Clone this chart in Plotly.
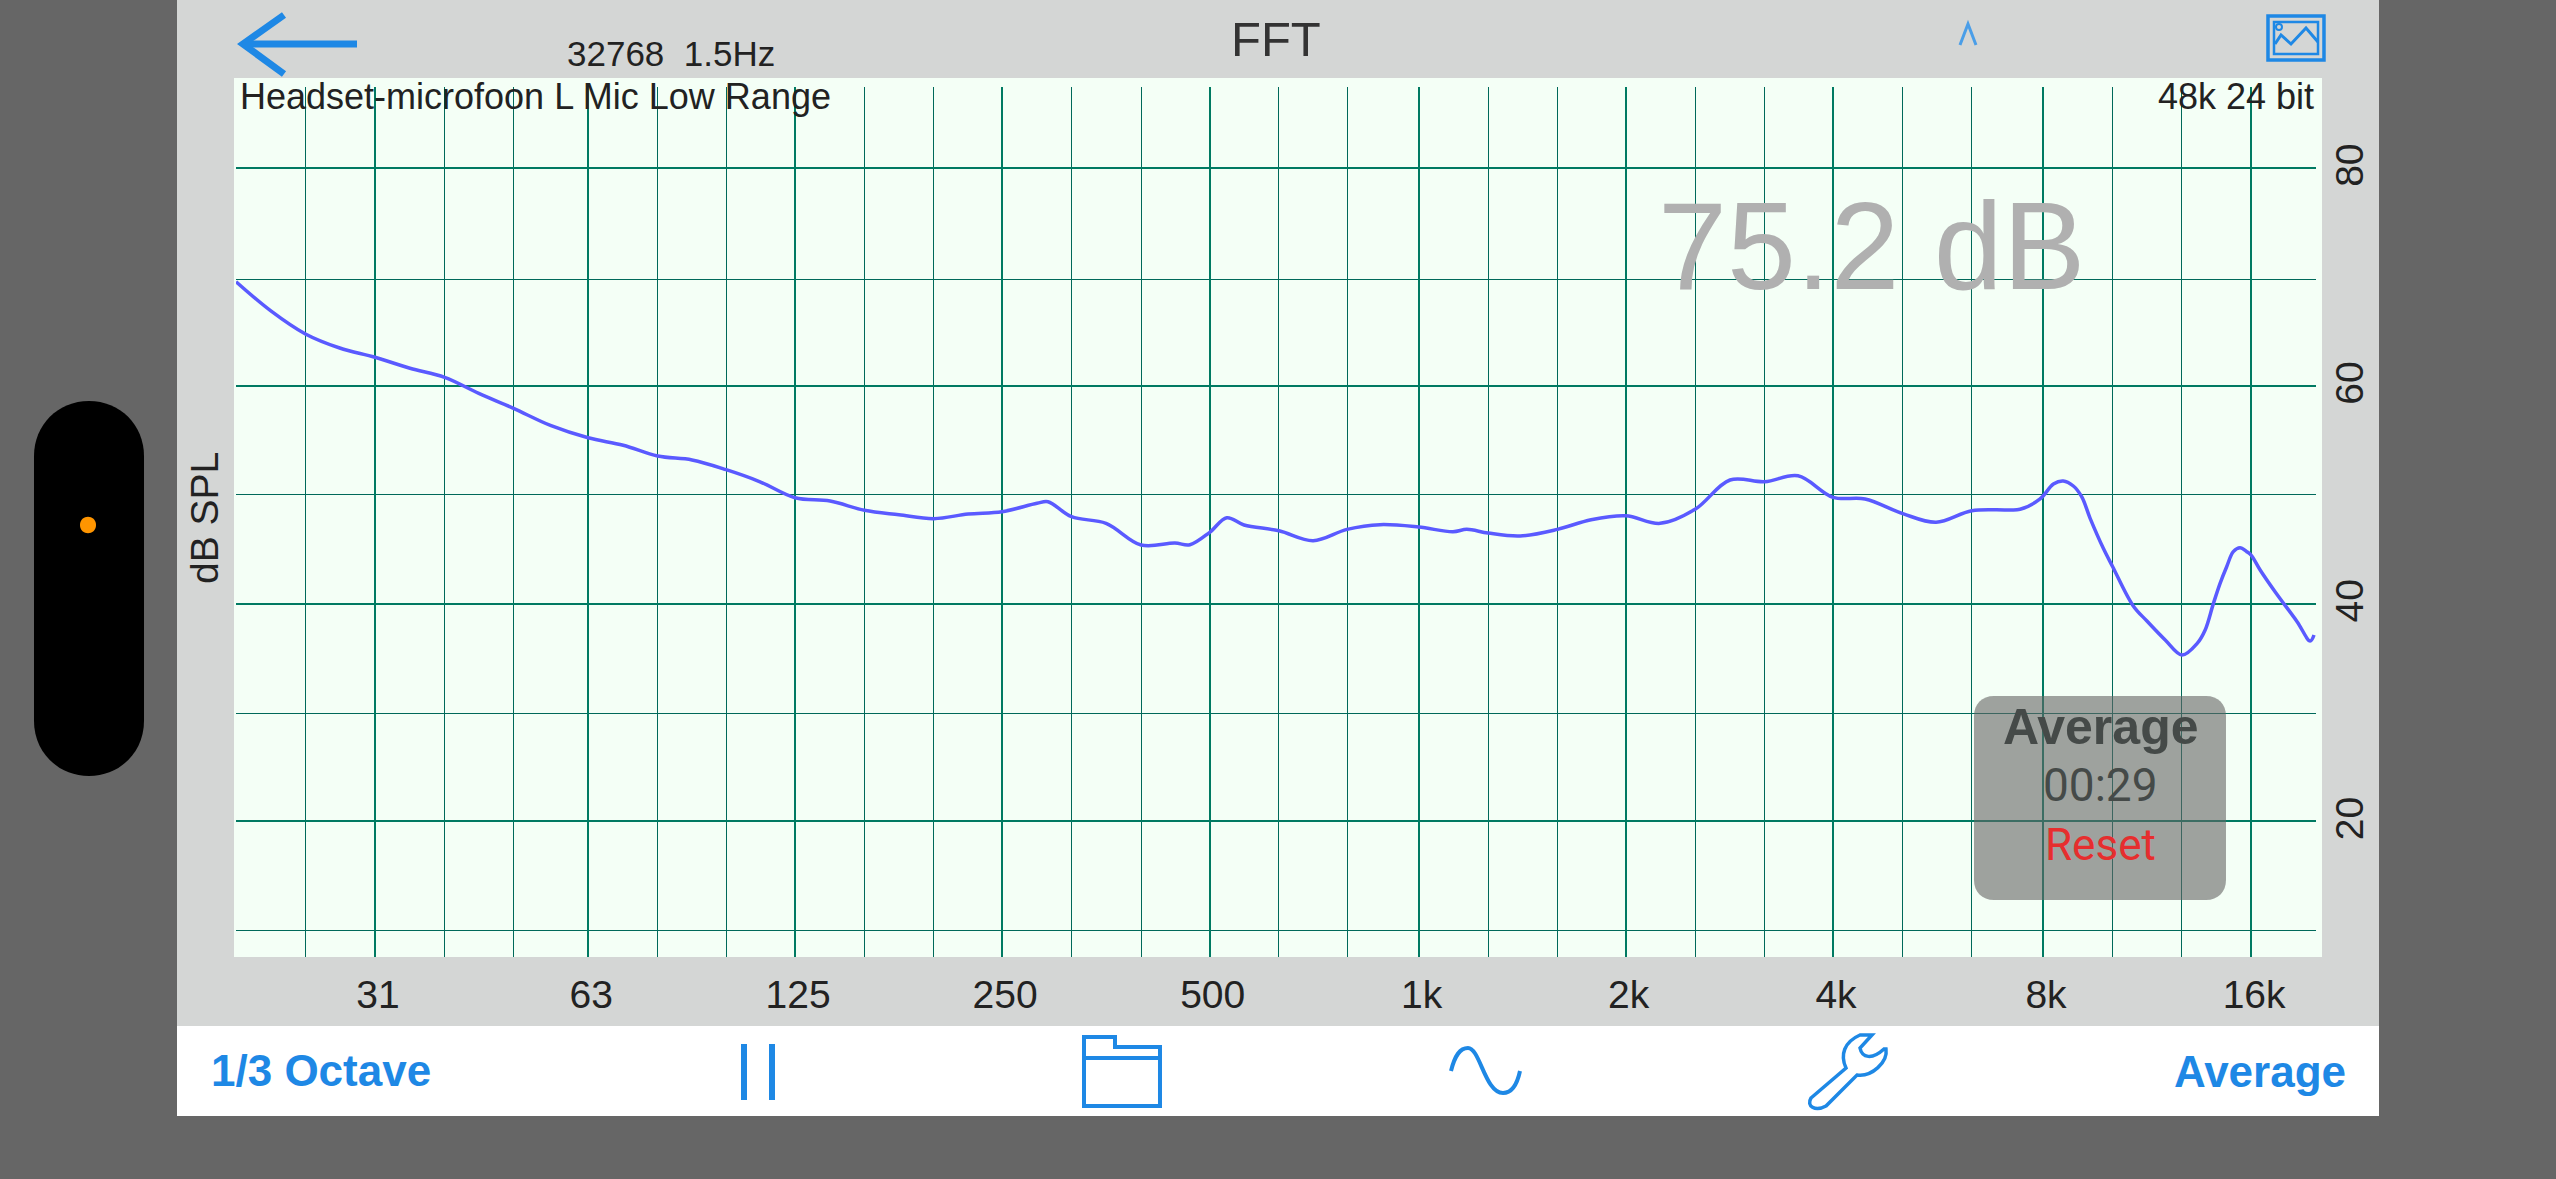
import re
import plotly.graph_objects as go

W = 2556
H = 1179

# curve, frequency in Hz and level in dB
freq = [19.47, 21.84, 24.53, 27.5, 30.93, 34.75, 39.0, 43.7, 49.07, 55.6, 62.9, 70.7, 79.3, 88.9,
        99.6, 111.5, 125.3, 140.8, 157.9, 177.1, 199, 223, 249.7, 280.5, 291, 314.7, 353, 396.7,
        444, 466.8, 498.6, 527.8, 559, 628, 703.7, 787.8, 879.4, 1000, 1121, 1174, 1260, 1402,
        1588, 1776, 1993, 2235, 2511, 2821, 3166, 3538, 3975, 4423, 5016, 5603, 6310, 7097, 7412,
        7923, 8283, 8556, 8851, 9100, 9360, 9780, 10090, 10800, 11310, 12020, 12710,
        13370, 13730, 14110, 14430, 14750, 15080, 15420, 15770, 16000, 16490, 17330, 18650, 19480, 19730]
level = [69.56, 66.9, 64.76, 63.47, 62.62, 61.61, 60.78, 59.31, 57.93, 56.34, 55.23, 54.54, 53.55, 53.19,
         52.3, 51.19, 49.72, 49.42, 48.57, 48.16, 47.8, 48.23, 48.44, 49.21, 49.36, 47.98, 47.37, 45.38,
         45.56, 45.41, 46.55, 47.89, 47.22, 46.69, 45.78, 46.82, 47.25, 47.03, 46.6, 46.82, 46.48, 46.21,
         46.82, 47.7, 48.07, 47.37, 48.66, 51.35, 51.19, 51.74, 49.76, 49.61, 48.26, 47.47, 48.53, 48.6, 48.66,
         49.61, 50.98, 51.26, 50.8, 49.82, 47.83, 45.08, 43.39, 39.81, 38.4, 36.66, 35.28,
         36.35, 37.58, 40.0, 41.86, 43.39, 44.77, 45.13, 44.77, 44.46, 43.09, 41.09, 38.34, 36.57, 37.12]

# octave ticks
x_ticks = [30.93, 62.9, 125.3, 249.7, 498.6, 1000, 1993, 3975, 8000, 16000]
x_labels = ["31", "63", "125", "250", "500", "1k", "2k", "4k", "8k", "16k"]
# third octave lines in between
x_minor = [19.47, 24.53, 39.0, 49.07, 79.3, 99.6, 157.9, 199, 314.7, 396.7, 628, 787.8, 1260, 1588,
           2511, 3166, 5016, 6310, 10090, 12710]
y_ticks = [80, 60, 40, 20]
y_labels = ["80", "60", "40", "20"]
y_minor = [69.8, 50, 29.9, 10]

BLUE = "#1e88e5"
PANEL = "#d4d6d5"
MINT = "#f4fff6"
FONT = "Liberation Sans"


def px(x, y):
    return x / W, 1 - y / H


def path_px(d):
    return re.sub(r"(-?[\d.]+),(-?[\d.]+)",
                  lambda m: f"{float(m[1]) / W:.5f},{1 - float(m[2]) / H:.5f}", d)


def rect(fig, x0, y0, x1, y1, color):
    ax, ay = px(x0, y0)
    bx, by = px(x1, y1)
    fig.add_shape(type="rect", xref="paper", yref="paper", x0=ax, y0=ay, x1=bx, y1=by,
                  fillcolor=color, line_width=0, layer="below")


def icon(fig, d, color=BLUE, width=4, fill=None, layer="above"):
    fig.add_shape(type="path", xref="paper", yref="paper", path=path_px(d),
                  line=dict(color=color, width=width), fillcolor=fill, layer=layer)


def label(fig, x, y, text, size, color="#222222", anchor="center", bold=False, family=FONT, angle=0):
    ax, ay = px(x, y)
    if bold:
        text = "<b>" + text + "</b>"
    fig.add_annotation(x=ax, y=ay, xref="paper", yref="paper", text=text, showarrow=False,
                       xanchor=anchor, yanchor="middle", textangle=angle,
                       font=dict(family=family, size=size, color=color))


fig = go.Figure()

fig.add_trace(go.Scatter(
    x=freq,
    y=level,
    mode="lines",
    line=dict(color="#5a5aff", width=3.5, shape="spline", smoothing=1.0),
    hoverinfo="skip"
))

# frame of the app, behind the plot
rect(fig, 177, 0, 2379, 1026, PANEL)
rect(fig, 177, 1026, 2379, 1116, "#ffffff")
rect(fig, 234, 78, 2322, 957, MINT)

# side pill
icon(fig, "M34,456 C34,425 58,401 89,401 C120,401 144,425 144,456 L144,721 C144,752 120,776 89,776 "
          "C58,776 34,752 34,721 Z", color="#000000", width=0, fill="#000000", layer="below")
icon(fig, "M80,525 C80,514 96,514 96,525 C96,536 80,536 80,525 Z", color="#ff9500", width=0, fill="#ff9500",
     layer="below")

# top bar icons
icon(fig, "M284,15 L243,44 L284,74", width=7)
icon(fig, "M243,44 L357,44", width=7)
icon(fig, "M1960,45 L1968,24 L1976,45", color="#4a9ee8", width=3)
icon(fig, "M2268,16 L2324,16 L2324,60 L2268,60 Z", width=3.5)
icon(fig, "M2274,22 L2318,22 L2318,54 L2274,54 Z", width=2.5)
icon(fig, "M2275,44 L2281,35 L2291,44 L2306,28 L2318,42", width=3)
icon(fig, "M2276,27 C2276,23 2282,23 2282,27 C2282,31 2276,31 2276,27 Z", width=2)

# bottom bar icons
icon(fig, "M744,1044 L744,1100", width=6)
icon(fig, "M772,1044 L772,1100", width=6)
icon(fig, "M1084,1106 L1084,1037 L1115,1037 L1115,1047 L1160,1047 L1160,1106 Z", width=4)
icon(fig, "M1084,1058 L1160,1058", width=4)
icon(fig, "M1451,1071 C1455,1055 1460,1048 1468,1048 C1480,1048 1485,1093 1503,1093 "
          "C1512,1093 1517,1085 1520,1071", width=4)
icon(fig, "M1811,1098 L1846,1068 C1840,1055 1844,1042 1860,1035 L1872,1035 L1860,1048 "
          "C1862,1058 1872,1060 1884,1049 L1886,1049 C1888,1062 1872,1077 1857,1075 L1826,1106 "
          "C1815,1112 1806,1106 1811,1098 Z", width=3.5)

# average box, sits over the grid
icon(fig, "M1994,696 L2206,696 C2218,696 2226,704 2226,716 L2226,880 C2226,892 2218,900 2206,900 "
          "L1994,900 C1982,900 1974,892 1974,880 L1974,716 C1974,704 1982,696 1994,696 Z",
     color="rgba(0,0,0,0)", width=0, fill="rgba(100,100,100,0.6)")

label(fig, 671, 53, "32768\u00a0\u00a01.5Hz", 35)
label(fig, 1276, 39, "FFT", 49, color="#333333")
label(fig, 238, 96, "Headset-microfoon L Mic Low Range", 36, anchor="left")
label(fig, 2316, 96, "48k 24 bit", 36, anchor="right")
label(fig, 204, 518, "dB SPL", 39, angle=-90)
label(fig, 1871, 246, "75.2 dB", 124, color="#b0b0b0")
label(fig, 2100, 727, "Average", 50, color="#454a48", bold=True)
label(fig, 2100, 785, "00:29", 46, color="#454a48", family="Roboto")
label(fig, 2100, 845, "Reset", 44, color="#e62e2e", family="Roboto")
label(fig, 321, 1070, "1/3 Octave", 44, color=BLUE, bold=True)
label(fig, 2260, 1071, "Average", 44, color=BLUE, bold=True)

fig.update_layout(
    width=W,
    height=H,
    margin=dict(l=0, r=0, t=0, b=0),
    paper_bgcolor="#666666",
    plot_bgcolor="rgba(0,0,0,0)",
    showlegend=False,
    xaxis=dict(
        type="log",
        domain=[236 / W, 2316 / W],
        range=[1.2893, 4.298],
        tickmode="array",
        tickvals=x_ticks,
        ticktext=x_labels,
        ticks="",
        ticklabelstandoff=11,
        ticklabelshift=3,
        tickfont=dict(family=FONT, size=39, color="#222222"),
        showgrid=True,
        gridcolor="#007a62",
        gridwidth=2,
        zeroline=False,
        showline=False,
        minor=dict(tickmode="array", tickvals=x_minor, showgrid=True, gridcolor="#00695a", gridwidth=1.4,
                   ticks=""),
    ),
    yaxis=dict(
        domain=[1 - 957 / H, 1 - 87 / H],
        range=[7.55, 87.44],
        side="right",
        tickmode="array",
        tickvals=y_ticks,
        ticktext=y_labels,
        tickangle=-90,
        ticks="",
        ticklabelstandoff=7,
        ticklabelshift=3,
        tickfont=dict(family=FONT, size=39, color="#222222"),
        showgrid=True,
        gridcolor="#007a62",
        gridwidth=2,
        zeroline=False,
        showline=False,
        minor=dict(tickmode="array", tickvals=y_minor, showgrid=True, gridcolor="#00695a", gridwidth=1.4,
                   ticks=""),
    ),
)

fig.write_html("out.html", config=dict(displayModeBar=False),
               post_script="document.body.style.margin='0';")
